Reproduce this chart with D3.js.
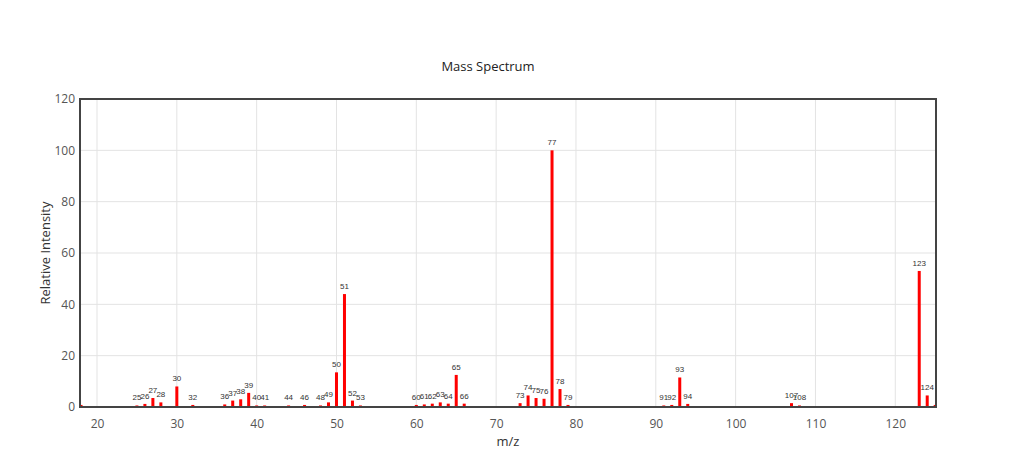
<!DOCTYPE html><html><head><meta charset="utf-8"><script src="https://cdn.jsdelivr.net/npm/d3@7"></script>
<style>body{margin:0;background:#fff;font-family:"Open Sans",sans-serif}</style></head><body><svg id="c" width="1024" height="468"></svg>
<script>
const mz=[18,25,26,27,28,30,32,36,37,38,39,40,41,44,46,48,49,50,51,52,53,60,61,62,63,64,65,66,73,74,75,76,77,78,79,91,92,93,94,107,108,123,124,125];
const intensity=[0.8,0.6,1.2,3.5,1.8,8,0.8,1,2.5,3,5.5,0.6,0.6,0.6,0.8,0.6,1.8,13.5,44,2.5,0.6,0.8,1,1.3,1.8,1.3,12.5,1.3,1.5,4.5,3.5,3.2,100,7,0.8,0.6,0.8,11.5,1.2,1.5,0.6,53,4.5,0.8];
const unlabeled=[18,125];
const xTicks=[20,30,40,50,60,70,80,90,100,110,120];
const yTicks=[0,20,40,60,80,100,120];
const svg=d3.select("#c");
const L=80,R=936,T=99,B=407;
const x=d3.scaleLinear().domain([17.87,125.1]).range([L,R]);
const y=d3.scaleLinear().domain([0,120]).range([B,T]);
const g=svg.append("g");
g.selectAll(".gx").data(xTicks).join("line").attr("x1",d=>x(d)).attr("x2",d=>x(d)).attr("y1",T).attr("y2",B).attr("stroke","#e3e3e3");
g.selectAll(".gy").data(yTicks).join("line").attr("x1",L).attr("x2",R).attr("y1",d=>y(d)).attr("y2",d=>y(d)).attr("stroke","#e3e3e3");
const xa=svg.append("g").attr("transform",`translate(0,${B})`).call(d3.axisBottom(x).tickValues(xTicks).tickSize(0).tickPadding(12));
const ya=svg.append("g").attr("transform",`translate(${L},0)`).call(d3.axisLeft(y).tickValues(yTicks).tickSize(0).tickPadding(5));
[xa,ya].forEach(a=>{a.select(".domain").remove();a.selectAll("text").attr("font-size",12).attr("fill","#555").attr("font-family","Open Sans");});
svg.selectAll(".bar").data(mz).join("rect").attr("x",(d)=>x(d)-1.5).attr("width",3).attr("y",(d,i)=>y(intensity[i])).attr("height",(d,i)=>B-y(intensity[i])).attr("fill","#ff0000");
svg.selectAll(".lab").data(mz.filter(d=>!unlabeled.includes(d))).join("text").attr("x",d=>x(d)).attr("y",d=>y(intensity[mz.indexOf(d)])-5).attr("text-anchor","middle").attr("font-size",8).attr("fill","#333").attr("font-family","Arial, Liberation Sans").text(d=>d);
svg.append("rect").attr("x",L).attr("y",T).attr("width",R-L).attr("height",B-T).attr("fill","none").attr("stroke","#444").attr("stroke-width",2);
svg.append("text").attr("x",488).attr("y",71).attr("text-anchor","middle").attr("font-size",13).attr("fill","#222").text("Mass Spectrum");
svg.append("text").attr("x",508).attr("y",446).attr("text-anchor","middle").attr("font-size",13).attr("fill","#333").text("m/z");
svg.append("text").attr("transform","translate(50,253) rotate(-90)").attr("text-anchor","middle").attr("font-size",13).attr("fill","#333").text("Relative Intensity");
</script></body></html>
